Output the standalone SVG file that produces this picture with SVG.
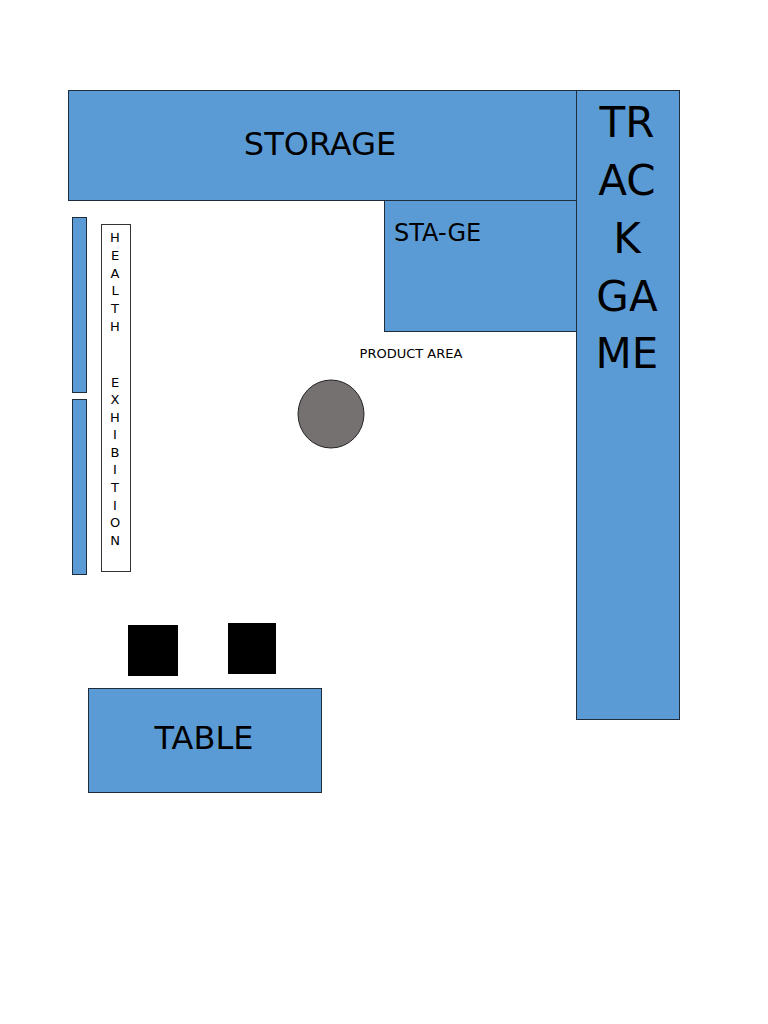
<svg xmlns="http://www.w3.org/2000/svg" width="768" height="1024" viewBox="0 0 768 1024">
<style>
.b{fill:#5b9bd5;stroke:#1f2d3d;stroke-width:1}
text{font-family:"DejaVu Sans",sans-serif;fill:#000}
.v{font-size:13px;text-anchor:middle;fill:#333}
</style>
<rect width="768" height="1024" fill="#fff"/>
<g id="storage"><rect class="b" x="68.500" y="90.500" width="508" height="110"/><text x="320" y="155" font-size="32" text-anchor="middle">STORAGE</text></g>
<g id="stage"><rect class="b" x="384.500" y="200.500" width="192" height="131"/><text x="394" y="241" font-size="24">STA-GE</text></g>
<g id="track"><rect class="b" x="576.500" y="90.500" width="103" height="629"/>
<g font-size="42" text-anchor="middle"><text x="627" y="137">TR</text><text x="627" y="195">AC</text><text x="627" y="253">K</text><text x="627" y="311">GA</text><text x="627" y="368">ME</text></g></g>
<g id="bars"><rect class="b" x="72.500" y="217.500" width="14" height="175"/><rect class="b" x="72.500" y="399.500" width="14" height="175"/></g>
<g id="health"><rect x="101.500" y="224.500" width="29" height="347" fill="#fff" stroke="#333"/>
<g class="v"><text x="115" y="242">H</text><text x="115" y="260">E</text><text x="115" y="278">A</text><text x="115" y="295">L</text><text x="115" y="313">T</text><text x="115" y="331">H</text>
<text x="115" y="387">E</text><text x="115" y="404">X</text><text x="115" y="422">H</text><text x="115" y="439">I</text><text x="115" y="457">B</text><text x="115" y="474">I</text><text x="115" y="492">T</text><text x="115" y="510">I</text><text x="115" y="527">O</text><text x="115" y="545">N</text></g></g>
<g id="product"><text x="411" y="358" font-size="13" text-anchor="middle" fill="#333">PRODUCT AREA</text>
<ellipse cx="331" cy="414" rx="33" ry="34" fill="#757171" stroke="#222"/></g>
<g id="chairs"><rect x="128" y="625" width="50" height="51" fill="#000"/><rect x="228" y="623" width="48" height="51" fill="#000"/></g>
<g id="table"><rect class="b" x="88.500" y="688.500" width="233" height="104"/><text x="204" y="749" font-size="32" text-anchor="middle">TABLE</text></g>
</svg>
